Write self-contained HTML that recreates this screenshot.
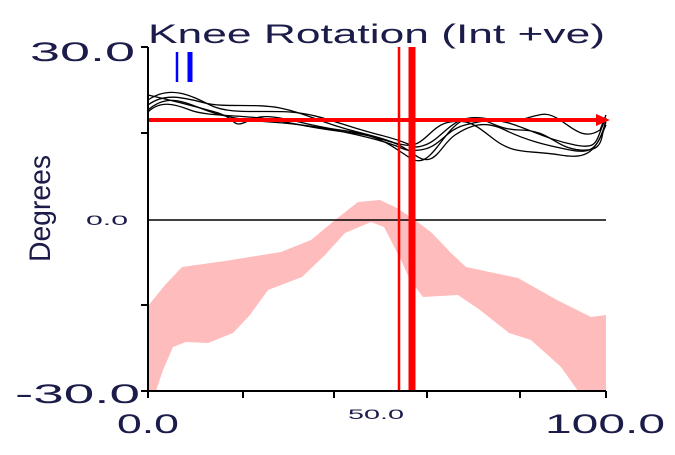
<!DOCTYPE html><html><head><style>body{margin:0;background:#fff}svg{display:block}</style></head><body>
<svg width="675" height="455" viewBox="0 0 675 455" font-family="Liberation Sans, sans-serif">
<text x="148" y="43" font-size="27" textLength="457" lengthAdjust="spacingAndGlyphs" fill="#1c1c4a">Knee Rotation (Int +ve)</text>
<path d="M148,391 L148,306 L165,285 L182,267 L225,261 L281,252 L311,240 L335,220 L358,202 L380,200 L397,208 L415,220 L432,233 L450,252 L466,267 L518,278 L557,300 L591,317 L606,315 L606,391 L578,391 L561,367 L531,340 L509,333 L480,310 L458,295 L423,297 L410,280 L401,260 L384,227 L371,222 L345,233 L325,255 L302,277 L268,290 L250,315 L233,333 L208,343 L186,342 L173,347 L163,370 L156,391 Z" fill="#ffbcbc"/>
<line x1="148" y1="220" x2="606" y2="220" stroke="#000" stroke-width="1.5"/>
<g fill="none" stroke="#000" stroke-width="1.3">
<path d="M148,100 C170,85 190,95 210,105 S260,110 290,112 S340,125 380,135 S410,150 425,145 S450,120 470,118 S500,125 520,120 S545,110 560,120 S585,140 600,130 L606,115"/>
<path d="M148,110 C165,95 180,100 200,108 S240,120 270,122 S330,128 370,138 S400,152 420,150 S445,130 465,125 S495,118 515,125 S550,140 575,145 S595,140 606,118"/>
<path d="M148,95 C170,100 190,105 215,112 S230,130 250,120 S300,125 340,130 S390,145 410,158 S440,135 460,122 S490,130 520,130 S555,148 580,150 S600,138 606,120"/>
<path d="M148,105 C165,92 185,98 205,103 S255,103 280,108 S320,122 350,130 S395,140 415,155 S440,145 455,135 S485,120 505,130 S545,145 570,150 S598,145 606,122"/>
<path d="M148,112 C160,100 175,104 190,110 S235,115 260,118 S310,128 345,132 S385,142 405,145 S430,125 450,122 S475,125 495,140 S530,150 560,155 S595,150 606,125"/>
</g>
<line x1="177" y1="52" x2="177" y2="82" stroke="#0000ff" stroke-width="2.5"/>
<line x1="190" y1="52" x2="190" y2="82" stroke="#0000ff" stroke-width="5"/>
<line x1="399" y1="47" x2="399" y2="391" stroke="#f00" stroke-width="2.5"/>
<line x1="412" y1="47" x2="412" y2="391" stroke="#f00" stroke-width="7"/>
<line x1="148" y1="120" x2="600" y2="120" stroke="#f00" stroke-width="4"/>
<path d="M596,114 L610,120 L596,126 Z" fill="#f00"/>
<g stroke="#000" stroke-width="2" fill="none">
<path d="M148,47 V391 H606"/>
<path d="M141,47 H148 M141,133 H148 M141,305 H148 M141,391 H148"/>
<path d="M148,391 V398 M243,391 V398 M334,391 V398 M427,391 V398 M520,391 V398 M606,391 V398"/>
</g>
<g fill="#1c1c4a">
<text x="30" y="61" font-size="27" textLength="105" lengthAdjust="spacingAndGlyphs">30.0</text>
<text x="86" y="225" font-size="14" textLength="42" lengthAdjust="spacingAndGlyphs">0.0</text>
<text x="15" y="403" font-size="27" textLength="125" lengthAdjust="spacingAndGlyphs">-30.0</text>
<text x="117" y="433" font-size="27" textLength="62" lengthAdjust="spacingAndGlyphs">0.0</text>
<text x="348" y="419" font-size="14" textLength="56" lengthAdjust="spacingAndGlyphs">50.0</text>
<text x="545" y="433" font-size="27" textLength="120" lengthAdjust="spacingAndGlyphs">100.0</text>
<text transform="translate(50,262) rotate(-90)" font-size="30" textLength="107" lengthAdjust="spacingAndGlyphs">Degrees</text>
</g>
</svg></body></html>
